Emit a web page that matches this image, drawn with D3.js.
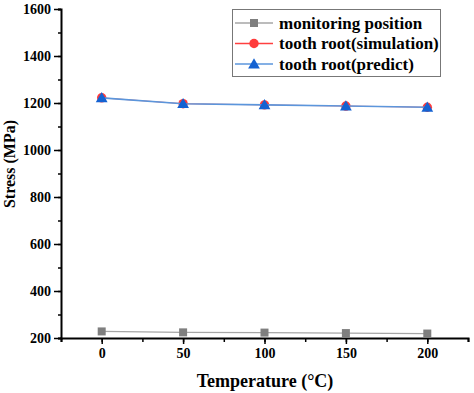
<!DOCTYPE html>
<html>
<head>
<meta charset="utf-8">
<script src="https://cdn.jsdelivr.net/npm/d3@7.9.0/dist/d3.min.js"></script>
<style>
  body { margin: 0; background: #fff; }
  svg { display: block; font-family: "Liberation Serif", "Times New Roman", serif; font-weight: bold; }
</style>
</head>
<body>
<svg id="chart" width="474" height="393"></svg>
<script>
const temperatures = [0, 50, 100, 150, 200];
const monitoring = [228, 224, 223, 221, 219];
const rootSimulation = [1222, 1197, 1192, 1187, 1182];
const rootPredict = [1222, 1197, 1192, 1187, 1182];
const xTicks = [0, 50, 100, 150, 200];
const yTicks = [200, 400, 600, 800, 1000, 1200, 1400, 1600];

const svg = d3.select("#chart");

const x = d3.scaleLinear().domain([-25, 225]).range([61, 468]);
const y = d3.scaleLinear().domain([200, 1600]).range([338, 9]);

// axes
const xAxis = svg.append("g").attr("transform", `translate(0,${y(200)})`);
xAxis.call(d3.axisBottom(x).tickValues(d3.range(-25, 226, 25)).tickSize(4).tickFormat(""));
xAxis.append("g").call(d3.axisBottom(x).tickValues(xTicks).tickSize(6).tickPadding(4).tickFormat(d3.format("d")));

const yAxis = svg.append("g").attr("transform", `translate(${x(-25)},0)`);
yAxis.call(d3.axisLeft(y).tickValues(d3.range(200, 1601, 100)).tickSize(3).tickFormat(""));
yAxis.append("g").call(d3.axisLeft(y).tickValues(yTicks).tickSize(7).tickPadding(3).tickFormat(d3.format("d")));

svg.selectAll(".domain").attr("stroke", "#000").attr("stroke-width", 2);
svg.selectAll(".tick line").attr("stroke", "#000").attr("stroke-width", 1.5);
svg.selectAll(".tick text")
  .attr("fill", "#000")
  .style("font-size", "14px")
  .style("font-family", "Liberation Serif, serif")
  .style("font-weight", "bold");
xAxis.selectAll(".domain").filter((d, i, n) => n[i].parentNode !== xAxis.node()).remove();
yAxis.selectAll(".domain").filter((d, i, n) => n[i].parentNode !== yAxis.node()).remove();

// axis titles
svg.append("text")
  .attr("x", 265).attr("y", 387)
  .attr("text-anchor", "middle")
  .style("font-size", "18px")
  .text("Temperature (°C)");

svg.append("text")
  .attr("transform", "translate(15,164) rotate(-90)")
  .attr("text-anchor", "middle")
  .style("font-size", "16px")
  .text("Stress (MPa)");

const series = [
  { name: "monitoring position", values: monitoring, line: "#a6a6a6", fill: "#7f7f7f", symbol: d3.symbolSquare, size: 64, width: 1.3 },
  { name: "tooth root(simulation)", values: rootSimulation, line: "#ff4040", fill: "#ff3b3b", symbol: d3.symbolCircle, size: 70, width: 0.8 },
  { name: "tooth root(predict)", values: rootPredict, line: "#5b96dc", fill: "#1462d2", symbol: d3.symbolTriangle, size: 60, width: 1.6 }
];

const line = d3.line()
  .x((d, i) => x(temperatures[i]))
  .y((d) => y(d));

series.forEach((s) => {
  svg.append("path")
    .attr("d", line(s.values))
    .attr("fill", "none")
    .attr("stroke", s.line)
    .attr("stroke-width", s.width);

  svg.selectAll(null)
    .data(s.values)
    .enter()
    .append("path")
    .attr("d", d3.symbol().type(s.symbol).size(s.size))
    .attr("transform", (d, i) => `translate(${x(temperatures[i])},${y(d) + (s.symbol === d3.symbolTriangle ? 1 : 0)})`)
    .attr("fill", s.fill);
});

// legend
const legend = svg.append("g");
legend.append("rect")
  .attr("x", 232.5).attr("y", 9.5)
  .attr("width", 208).attr("height", 67)
  .attr("fill", "#fff")
  .attr("stroke", "#777")
  .attr("stroke-width", 1);

series.forEach((s, i) => {
  const ly = 23 + i * 20.5;
  legend.append("line")
    .attr("x1", 235).attr("x2", 273)
    .attr("y1", ly).attr("y2", ly)
    .attr("stroke", s.line)
    .attr("stroke-width", 1.3);
  legend.append("path")
    .attr("d", d3.symbol().type(s.symbol).size(s.size))
    .attr("transform", `translate(254,${ly + (s.symbol === d3.symbolTriangle ? 1 : 0)})`)
    .attr("fill", s.fill);
  legend.append("text")
    .attr("x", 279).attr("y", ly)
    .attr("dy", "0.35em")
    .style("font-size", "17px")
    .text(s.name);
});
</script>
</body>
</html>
